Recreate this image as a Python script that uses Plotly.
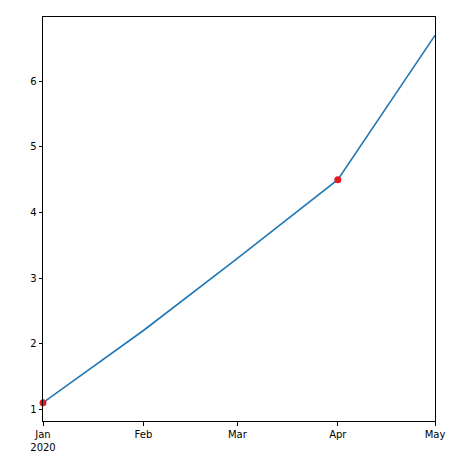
import plotly.graph_objects as go

# data
dates = ["2020-01-01", "2020-02-01", "2020-03-01", "2020-04-01", "2020-05-01"]
values = [1.1, 2.2, 3.3, 4.5, 6.7]
marked_dates = ["2020-01-01", "2020-04-01"]
marked_values = [1.1, 4.5]
tick_labels = ["Jan<br>2020", "Feb", "Mar", "Apr", "May"]
y_ticks = [1, 2, 3, 4, 5, 6]

fig = go.Figure()

fig.add_trace(
    go.Scatter(
        x=dates,
        y=values,
        mode="lines",
        line=dict(color="#1f77b4", width=1.6),
        showlegend=False,
        hoverinfo="x+y",
    )
)

fig.add_trace(
    go.Scatter(
        x=marked_dates,
        y=marked_values,
        mode="markers",
        marker=dict(color="#e41a1c", size=7),
        showlegend=False,
        cliponaxis=False,
    )
)

pad = (max(values) - min(values)) * 0.05

axis_style = dict(
    showline=True,
    linecolor="black",
    linewidth=1,
    mirror=True,
    ticks="outside",
    ticklen=3.5,
    tickcolor="black",
    showgrid=False,
    zeroline=False,
    automargin=False,
    ticklabeloverflow="allow",
)

fig.update_layout(
    width=474,
    height=463,
    margin=dict(l=43, r=39, t=17, b=42),
    paper_bgcolor="white",
    plot_bgcolor="white",
    font=dict(family="DejaVu Sans", size=10, color="black"),
    xaxis=dict(
        type="date",
        range=[dates[0], dates[-1]],
        tickvals=dates,
        ticktext=tick_labels,
        **axis_style,
    ),
    yaxis=dict(
        range=[min(values) - pad, max(values) + pad],
        tickvals=y_ticks,
        **axis_style,
    ),
)

# drop the default page margin so the figure sits at the window's corner
fig.write_html(
    "out.html",
    config={"displayModeBar": False},
    post_script="document.body.style.margin = '0px'; document.body.style.overflow = 'hidden';",
)
